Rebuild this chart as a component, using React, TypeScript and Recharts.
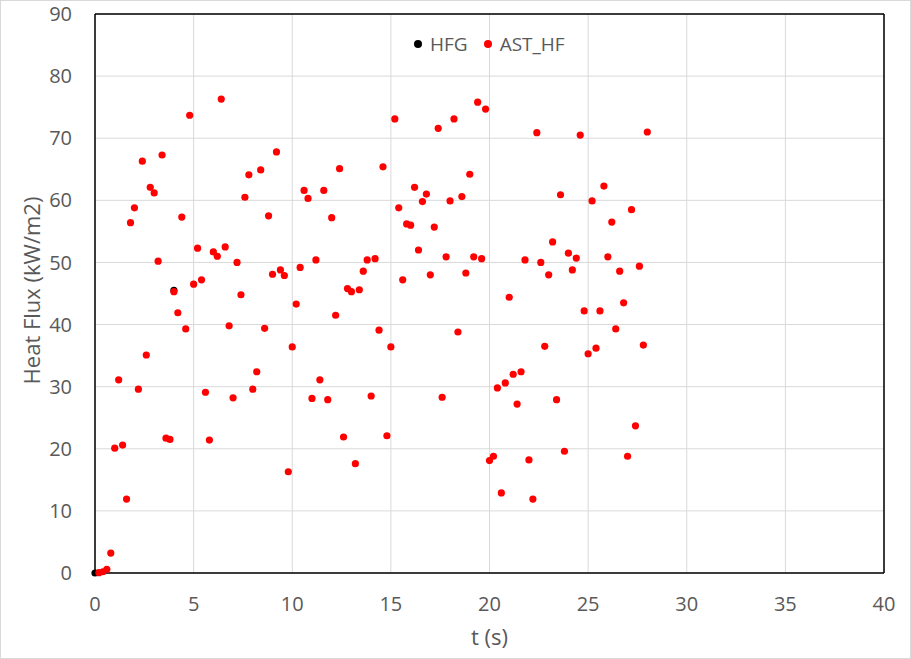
import {
  CartesianGrid,
  Legend,
  ReferenceLine,
  Scatter,
  ScatterChart,
  XAxis,
  YAxis,
} from "recharts"

const HFG_COLOR = "#000000"
const AST_COLOR = "#ff0000"
const TEXT_COLOR = "#595959"
const GRID_COLOR = "#d9d9d9"
const FONT = "'Open Sans', sans-serif"

// t (s) for the AST_HF series
const AST_TIME = [
  0.2, 0.4, 0.6, 0.8, 1.0, 1.2, 1.4, 1.6, 1.8, 2.0,
  2.2, 2.4, 2.6, 2.8, 3.0, 3.2, 3.4, 3.6, 3.8, 4.0,
  4.2, 4.4, 4.6, 4.8, 5.0, 5.2, 5.4, 5.6, 5.8, 6.0,
  6.2, 6.4, 6.6, 6.8, 7.0, 7.2, 7.4, 7.6, 7.8, 8.0,
  8.2, 8.4, 8.6, 8.8, 9.0, 9.2, 9.4, 9.6, 9.8, 10.0,
  10.2, 10.4, 10.6, 10.8, 11.0, 11.2, 11.4, 11.6, 11.8, 12.0,
  12.2, 12.4, 12.6, 12.8, 13.0, 13.2, 13.4, 13.6, 13.8, 14.0,
  14.2, 14.4, 14.6, 14.8, 15.0, 15.2, 15.4, 15.6, 15.8, 16.0,
  16.2, 16.4, 16.6, 16.8, 17.0, 17.2, 17.4, 17.6, 17.8, 18.0,
  18.2, 18.4, 18.6, 18.8, 19.0, 19.2, 19.4, 19.6, 19.8, 20.0,
  20.2, 20.4, 20.6, 20.8, 21.0, 21.2, 21.4, 21.6, 21.8, 22.0,
  22.2, 22.4, 22.6, 22.8, 23.0, 23.2, 23.4, 23.6, 23.8, 24.0,
  24.2, 24.4, 24.6, 24.8, 25.0, 25.2, 25.4, 25.6, 25.8, 26.0,
  26.2, 26.4, 26.6, 26.8, 27.0, 27.2, 27.4, 27.6, 27.8, 28.0,
]

// heat flux (kW/m2)
const AST_HF = [
  0.05, 0.2, 0.6, 3.2, 20.1, 31.1, 20.6, 11.9, 56.4, 58.8,
  29.6, 66.3, 35.1, 62.1, 61.2, 50.2, 67.3, 21.7, 21.5, 45.3,
  41.9, 57.3, 39.3, 73.7, 46.5, 52.3, 47.2, 29.1, 21.4, 51.7,
  51.0, 76.3, 52.5, 39.8, 28.2, 50.0, 44.8, 60.5, 64.1, 29.6,
  32.4, 64.9, 39.4, 57.5, 48.1, 67.8, 48.8, 47.9, 16.3, 36.4,
  43.3, 49.2, 61.6, 60.3, 28.1, 50.4, 31.1, 61.6, 27.9, 57.2,
  41.5, 65.1, 21.9, 45.8, 45.3, 17.6, 45.6, 48.6, 50.4, 28.5,
  50.6, 39.1, 65.4, 22.1, 36.4, 73.1, 58.8, 47.2, 56.2, 56.0,
  62.1, 52.0, 59.8, 61.0, 48.0, 55.7, 71.6, 28.3, 50.9, 59.9,
  73.1, 38.8, 60.6, 48.3, 64.2, 50.9, 75.8, 50.6, 74.7, 18.1,
  18.8, 29.8, 12.9, 30.6, 44.4, 32.0, 27.2, 32.4, 50.4, 18.2,
  11.9, 70.9, 50.0, 36.5, 48.0, 53.3, 27.9, 60.9, 19.6, 51.5,
  48.8, 50.7, 70.5, 42.2, 35.3, 59.9, 36.2, 42.2, 62.3, 50.9,
  56.5, 39.3, 48.6, 43.5, 18.8, 58.5, 23.7, 49.4, 36.7, 71.0,
]

const HFG_TIME = [0, 4.0]
const HFG = [0, 45.5]

const X_TICKS = [0, 5, 10, 15, 20, 25, 30, 35, 40]
const Y_TICKS = [0, 10, 20, 30, 40, 50, 60, 70, 80, 90]

const astData = AST_TIME.map((t, i) => ({ t, hf: AST_HF[i] }))
const hfgData = HFG_TIME.map((t, i) => ({ t, hf: HFG[i] }))

const dot = (color: string) => (props: any) => (
  <circle cx={props.cx} cy={props.cy} r={3.6} fill={color} />
)

function LegendBox() {
  const items = [
    { name: "HFG", color: HFG_COLOR },
    { name: "AST_HF", color: AST_COLOR },
  ]
  return (
    <div style={{ display: "flex", alignItems: "center", fontFamily: FONT, fontSize: 19, color: TEXT_COLOR }}>
      {items.map((it) => (
        <div key={it.name} style={{ display: "flex", alignItems: "center", marginRight: 16 }}>
          <svg width={8} height={8} style={{ marginRight: 8 }}>
            <circle cx={4} cy={4} r={4} fill={it.color} />
          </svg>
          <span>{it.name}</span>
        </div>
      ))}
    </div>
  )
}

export default function App() {
  const tick = { fontSize: 20, fill: TEXT_COLOR, fontFamily: FONT }
  return (
    <div style={{ position: "absolute", left: 0, top: 0, width: 911, height: 659, background: "#fff" }}>
      <ScatterChart width={911} height={659} margin={{ top: 14, right: 27, bottom: 0, left: 0 }}>
        <CartesianGrid stroke={GRID_COLOR} strokeWidth={1} />
        <XAxis
          type="number"
          dataKey="t"
          domain={[0, 40]}
          ticks={X_TICKS}
          height={86}
          tickLine={false}
          tickSize={0}
          tickMargin={24}
          axisLine={{ stroke: "#000", strokeWidth: 1.5 }}
          tick={tick}
          label={{
            content: ({ viewBox }: any) => (
              <text
                x={viewBox.x + viewBox.width / 2}
                y={viewBox.y + 63}
                textAnchor="middle"
                dominantBaseline="central"
                fontSize={22}
                fontFamily={FONT}
                fill={TEXT_COLOR}
              >
                t (s)
              </text>
            ),
          }}
        />
        <YAxis
          type="number"
          dataKey="hf"
          domain={[0, 90]}
          ticks={Y_TICKS}
          width={95}
          tickLine={false}
          tickSize={0}
          tickMargin={23}
          axisLine={{ stroke: "#000", strokeWidth: 1.5 }}
          tick={tick}
          label={{
            content: ({ viewBox }: any) => {
              const cx = 31
              const cy = viewBox.y + viewBox.height / 2 - 3
              return (
                <text
                  x={cx}
                  y={cy}
                  transform={`rotate(-90 ${cx} ${cy})`}
                  textAnchor="middle"
                  dominantBaseline="central"
                  fontSize={22}
                  fontFamily={FONT}
                  fill={TEXT_COLOR}
                >
                  Heat Flux (kW/m2)
                </text>
              )
            },
          }}
        />
        <ReferenceLine y={90} stroke="#000" strokeWidth={1.5} />
        <ReferenceLine x={40} stroke="#000" strokeWidth={1.5} />
        <Legend
          verticalAlign="middle"
          align="center"
          wrapperStyle={{ top: 31, left: 414, width: 200 }}
          content={() => <LegendBox />}
        />
        <Scatter
          name="HFG"
          data={hfgData}
          fill={HFG_COLOR}
          shape={dot(HFG_COLOR)}
          isAnimationActive={false}
        />
        <Scatter
          name="AST_HF"
          data={astData}
          fill={AST_COLOR}
          shape={dot(AST_COLOR)}
          isAnimationActive={false}
        />
      </ScatterChart>
      <div
        style={{
          position: "absolute",
          inset: 0,
          border: "1px solid #d9d9d9",
          pointerEvents: "none",
        }}
      />
    </div>
  )
}
